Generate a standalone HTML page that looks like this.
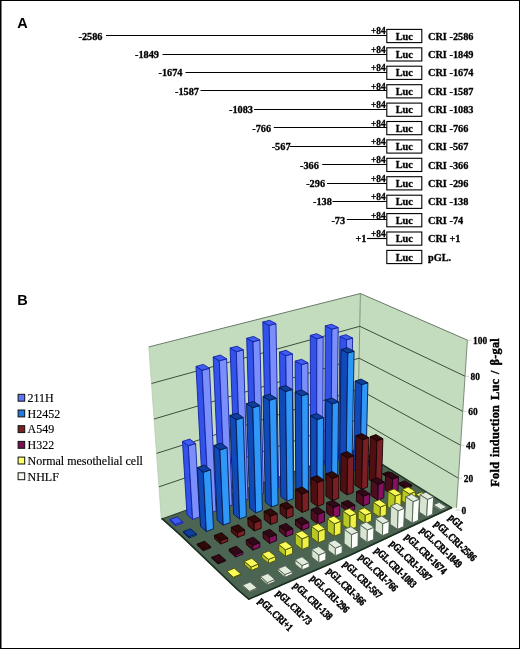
<!DOCTYPE html>
<html><head><meta charset="utf-8"><title>Figure</title>
<style>
html,body{margin:0;padding:0;background:#fff;}
body{width:520px;height:649px;overflow:hidden;}
svg{display:block;}
.sb{font-family:"Liberation Serif",serif;font-weight:bold;fill:#000;stroke:#000;stroke-width:0.3px;}
.sr{font-family:"Liberation Serif",serif;fill:#000;stroke:#000;stroke-width:0.15px;}
.ab{font-family:"Liberation Sans",sans-serif;font-weight:bold;fill:#000;}
</style></head><body>
<svg width="520" height="649" viewBox="0 0 520 649">
<rect x="0" y="0" width="520" height="649" fill="#fff"/>
<rect x="0.5" y="0.5" width="519" height="648" fill="none" stroke="#000" stroke-width="1"/>
<rect x="0" y="0" width="1.5" height="649" fill="#000"/>
<text x="17.3" y="28" class="ab" font-size="14.5">A</text>
<text x="17.3" y="305" class="ab" font-size="14.5">B</text>
<g id="panelA">
<rect x="386.8" y="29.4" width="35" height="13.2" fill="#fff" stroke="#000" stroke-width="1.1"/>
<text x="404.3" y="39.5" text-anchor="middle" class="sb" font-size="10.3">Luc</text>
<text x="428" y="39.6" class="sb" font-size="10.3">CRI -2586</text>
<text x="78.5" y="39.6" class="sb" font-size="10.3">-2586</text>
<line x1="106.0" y1="35.5" x2="386.8" y2="35.5" stroke="#000" stroke-width="1.15"/>
<text x="385.6" y="34.4" text-anchor="end" class="sb" font-size="9.4">+84</text>
<rect x="386.8" y="47.8" width="35" height="13.2" fill="#fff" stroke="#000" stroke-width="1.1"/>
<text x="404.3" y="57.9" text-anchor="middle" class="sb" font-size="10.3">Luc</text>
<text x="428" y="58.0" class="sb" font-size="10.3">CRI -1849</text>
<text x="135.0" y="58.0" class="sb" font-size="10.3">-1849</text>
<line x1="162.5" y1="54.5" x2="386.8" y2="54.5" stroke="#000" stroke-width="1.15"/>
<text x="385.6" y="52.8" text-anchor="end" class="sb" font-size="9.4">+84</text>
<rect x="386.8" y="66.2" width="35" height="13.2" fill="#fff" stroke="#000" stroke-width="1.1"/>
<text x="404.3" y="76.3" text-anchor="middle" class="sb" font-size="10.3">Luc</text>
<text x="428" y="76.4" class="sb" font-size="10.3">CRI -1674</text>
<text x="158.5" y="76.4" class="sb" font-size="10.3">-1674</text>
<line x1="185.5" y1="72.5" x2="386.8" y2="72.5" stroke="#000" stroke-width="1.15"/>
<text x="385.6" y="71.2" text-anchor="end" class="sb" font-size="9.4">+84</text>
<rect x="386.8" y="84.7" width="35" height="13.2" fill="#fff" stroke="#000" stroke-width="1.1"/>
<text x="404.3" y="94.8" text-anchor="middle" class="sb" font-size="10.3">Luc</text>
<text x="428" y="94.8" class="sb" font-size="10.3">CRI -1587</text>
<text x="175.0" y="94.8" class="sb" font-size="10.3">-1587</text>
<line x1="200.5" y1="90.5" x2="386.8" y2="90.5" stroke="#000" stroke-width="1.15"/>
<text x="385.6" y="89.7" text-anchor="end" class="sb" font-size="9.4">+84</text>
<rect x="386.8" y="103.1" width="35" height="13.2" fill="#fff" stroke="#000" stroke-width="1.1"/>
<text x="404.3" y="113.2" text-anchor="middle" class="sb" font-size="10.3">Luc</text>
<text x="428" y="113.3" class="sb" font-size="10.3">CRI -1083</text>
<text x="229.0" y="113.3" class="sb" font-size="10.3">-1083</text>
<line x1="254.0" y1="109.5" x2="386.8" y2="109.5" stroke="#000" stroke-width="1.15"/>
<text x="385.6" y="108.1" text-anchor="end" class="sb" font-size="9.4">+84</text>
<rect x="386.8" y="121.5" width="35" height="13.2" fill="#fff" stroke="#000" stroke-width="1.1"/>
<text x="404.3" y="131.6" text-anchor="middle" class="sb" font-size="10.3">Luc</text>
<text x="428" y="131.7" class="sb" font-size="10.3">CRI -766</text>
<text x="252.3" y="131.7" class="sb" font-size="10.3">-766</text>
<line x1="273.8" y1="127.5" x2="386.8" y2="127.5" stroke="#000" stroke-width="1.15"/>
<text x="385.6" y="126.5" text-anchor="end" class="sb" font-size="9.4">+84</text>
<rect x="386.8" y="139.9" width="35" height="13.2" fill="#fff" stroke="#000" stroke-width="1.1"/>
<text x="404.3" y="150.0" text-anchor="middle" class="sb" font-size="10.3">Luc</text>
<text x="428" y="150.1" class="sb" font-size="10.3">CRI -567</text>
<text x="271.7" y="150.1" class="sb" font-size="10.3">-567</text>
<line x1="289.8" y1="146.5" x2="386.8" y2="146.5" stroke="#000" stroke-width="1.15"/>
<text x="385.6" y="144.9" text-anchor="end" class="sb" font-size="9.4">+84</text>
<rect x="386.8" y="158.3" width="35" height="13.2" fill="#fff" stroke="#000" stroke-width="1.1"/>
<text x="404.3" y="168.4" text-anchor="middle" class="sb" font-size="10.3">Luc</text>
<text x="428" y="168.5" class="sb" font-size="10.3">CRI -366</text>
<text x="300.0" y="168.5" class="sb" font-size="10.3">-366</text>
<line x1="322.2" y1="164.5" x2="386.8" y2="164.5" stroke="#000" stroke-width="1.15"/>
<text x="385.6" y="163.3" text-anchor="end" class="sb" font-size="9.4">+84</text>
<rect x="386.8" y="176.7" width="35" height="13.2" fill="#fff" stroke="#000" stroke-width="1.1"/>
<text x="404.3" y="186.8" text-anchor="middle" class="sb" font-size="10.3">Luc</text>
<text x="428" y="186.9" class="sb" font-size="10.3">CRI -296</text>
<text x="306.2" y="186.9" class="sb" font-size="10.3">-296</text>
<line x1="327.0" y1="183.5" x2="386.8" y2="183.5" stroke="#000" stroke-width="1.15"/>
<text x="385.6" y="181.7" text-anchor="end" class="sb" font-size="9.4">+84</text>
<rect x="386.8" y="195.2" width="35" height="13.2" fill="#fff" stroke="#000" stroke-width="1.1"/>
<text x="404.3" y="205.2" text-anchor="middle" class="sb" font-size="10.3">Luc</text>
<text x="428" y="205.3" class="sb" font-size="10.3">CRI -138</text>
<text x="313.0" y="205.3" class="sb" font-size="10.3">-138</text>
<line x1="332.3" y1="201.5" x2="386.8" y2="201.5" stroke="#000" stroke-width="1.15"/>
<text x="385.6" y="200.2" text-anchor="end" class="sb" font-size="9.4">+84</text>
<rect x="386.8" y="213.6" width="35" height="13.2" fill="#fff" stroke="#000" stroke-width="1.1"/>
<text x="404.3" y="223.7" text-anchor="middle" class="sb" font-size="10.3">Luc</text>
<text x="428" y="223.8" class="sb" font-size="10.3">CRI -74</text>
<text x="331.4" y="223.8" class="sb" font-size="10.3">-73</text>
<line x1="346.8" y1="219.5" x2="386.8" y2="219.5" stroke="#000" stroke-width="1.15"/>
<text x="385.6" y="218.6" text-anchor="end" class="sb" font-size="9.4">+84</text>
<rect x="386.8" y="232.0" width="35" height="13.2" fill="#fff" stroke="#000" stroke-width="1.1"/>
<text x="404.3" y="242.1" text-anchor="middle" class="sb" font-size="10.3">Luc</text>
<text x="428" y="242.2" class="sb" font-size="10.3">CRI +1</text>
<text x="355.4" y="242.2" class="sb" font-size="10.3">+1</text>
<line x1="367.0" y1="238.5" x2="386.8" y2="238.5" stroke="#000" stroke-width="1.15"/>
<text x="385.6" y="237.0" text-anchor="end" class="sb" font-size="9.4">+84</text>
<rect x="386.8" y="250.4" width="35" height="13.2" fill="#fff" stroke="#000" stroke-width="1.1"/>
<text x="404.3" y="260.5" text-anchor="middle" class="sb" font-size="10.3">Luc</text>
<text x="428" y="260.6" class="sb" font-size="10.3">pGL.</text>
</g>
<g id="legend">
<rect x="18.1" y="394.3" width="6.6" height="6.9" fill="#5a78f5" stroke="#111" stroke-width="1"/>
<text x="27.5" y="402.0" class="sr" font-size="12">211H</text>
<rect x="18.1" y="410.0" width="6.6" height="6.9" fill="#1e7ae6" stroke="#111" stroke-width="1"/>
<text x="27.5" y="417.7" class="sr" font-size="12">H2452</text>
<rect x="18.1" y="425.7" width="6.6" height="6.9" fill="#7a2020" stroke="#111" stroke-width="1"/>
<text x="27.5" y="433.4" class="sr" font-size="12">A549</text>
<rect x="18.1" y="441.4" width="6.6" height="6.9" fill="#7a1050" stroke="#111" stroke-width="1"/>
<text x="27.5" y="449.1" class="sr" font-size="12">H322</text>
<rect x="18.1" y="457.1" width="6.6" height="6.9" fill="#ffff66" stroke="#111" stroke-width="1"/>
<text x="27.5" y="464.8" class="sr" font-size="12">Normal mesothelial cell</text>
<rect x="18.1" y="472.8" width="6.6" height="6.9" fill="#f4faf0" stroke="#111" stroke-width="1"/>
<text x="27.5" y="480.5" class="sr" font-size="12">NHLF</text>
</g>
<g id="chart">
<polygon points="161.3,519.1 148.8,346.9 360.4,293.5 357.3,448.8" fill="#c3dcbd"/>
<polygon points="357.3,448.8 360.4,293.5 467.4,340.1 456.5,507.7 452.3,508.1" fill="#c3dcbd"/>
<polyline points="148.8,346.9 360.4,293.5 467.4,340.1" fill="none" stroke="#5d6e5d" stroke-width="0.9"/>
<line x1="360.4" y1="293.5" x2="357.3" y2="448.8" stroke="#6f806f" stroke-width="0.8"/>
<line x1="467.4" y1="340.1" x2="456.5" y2="507.7" stroke="#6f826f" stroke-width="0.9"/>
<line x1="148.8" y1="346.9" x2="161.3" y2="519.1" stroke="#b4c9b0" stroke-width="0.7"/>
<line x1="159.0" y1="486.8" x2="357.9" y2="419.4" stroke="#1c2a1c" stroke-width="0.8"/>
<line x1="357.9" y1="419.4" x2="458.1" y2="478.0" stroke="#1c2a1c" stroke-width="0.8"/>
<line x1="156.6" y1="453.4" x2="358.5" y2="389.3" stroke="#1c2a1c" stroke-width="0.8"/>
<line x1="358.5" y1="389.3" x2="460.3" y2="445.1" stroke="#1c2a1c" stroke-width="0.8"/>
<line x1="154.1" y1="419.0" x2="359.1" y2="358.2" stroke="#1c2a1c" stroke-width="0.8"/>
<line x1="359.1" y1="358.2" x2="462.6" y2="411.2" stroke="#1c2a1c" stroke-width="0.8"/>
<line x1="151.5" y1="383.5" x2="359.8" y2="326.3" stroke="#1c2a1c" stroke-width="0.8"/>
<line x1="359.8" y1="326.3" x2="465.0" y2="376.2" stroke="#1c2a1c" stroke-width="0.8"/>
<polygon points="161.2,518.9 180.0,535.6 236.5,589.6 248.8,600.0 350.0,555.9 400.0,532.4 452.2,508.2 357.3,448.8" fill="#4b6552"/>
<line x1="161.3" y1="519.1" x2="357.3" y2="448.8" stroke="#22362a" stroke-width="0.9"/>
<line x1="357.3" y1="448.8" x2="452.2" y2="508.2" stroke="#1d3324" stroke-width="1.4"/>
<polyline points="161.8,518.3 180.6,535.1 237.1,589.1 248.8,599.1 349.8,555.2 399.8,531.7 451.9,507.5" fill="none" stroke="#1b3022" stroke-width="1.5" stroke-linejoin="miter"/>
<line x1="455.9" y1="509.9" x2="459.9" y2="510.1" stroke="#b5bdb5" stroke-width="0.7"/>
<line x1="458.1" y1="478.0" x2="462.1" y2="478.2" stroke="#b5bdb5" stroke-width="0.7"/>
<line x1="460.3" y1="445.1" x2="464.3" y2="445.3" stroke="#b5bdb5" stroke-width="0.7"/>
<line x1="462.6" y1="411.2" x2="466.6" y2="411.4" stroke="#b5bdb5" stroke-width="0.7"/>
<line x1="465.0" y1="376.2" x2="469.0" y2="376.4" stroke="#b5bdb5" stroke-width="0.7"/>
<line x1="467.4" y1="340.1" x2="471.4" y2="340.3" stroke="#b5bdb5" stroke-width="0.7"/>
<polygon points="352.1,454.9 352.1,452.0 358.4,455.9 358.4,458.9" fill="#3253ea" stroke="#1420a0" stroke-width="0.9" stroke-linejoin="round"/>
<polygon points="358.4,458.9 358.4,455.9 364.1,453.9 364.0,456.8" fill="#7a8ffb" stroke="#1420a0" stroke-width="0.9" stroke-linejoin="round"/>
<polygon points="358.4,455.9 364.1,453.9 357.8,450.0 352.1,452.0" fill="#3f5df2" stroke="#1420a0" stroke-width="0.9" stroke-linejoin="round"/>
<polygon points="338.5,459.8 339.9,336.4 346.5,339.7 344.7,463.9" fill="#3253ea" stroke="#1420a0" stroke-width="0.9" stroke-linejoin="round"/>
<polygon points="344.7,463.9 346.5,339.7 352.6,338.0 350.5,461.8" fill="#7a8ffb" stroke="#1420a0" stroke-width="0.9" stroke-linejoin="round"/>
<polygon points="346.5,339.7 352.6,338.0 346.0,334.7 339.9,336.4" fill="#3f5df2" stroke="#1420a0" stroke-width="0.9" stroke-linejoin="round"/>
<polygon points="324.6,464.8 325.3,325.9 331.9,329.2 330.8,468.9" fill="#3253ea" stroke="#1420a0" stroke-width="0.9" stroke-linejoin="round"/>
<polygon points="330.8,468.9 331.9,329.2 338.2,327.5 336.7,466.8" fill="#7a8ffb" stroke="#1420a0" stroke-width="0.9" stroke-linejoin="round"/>
<polygon points="331.9,329.2 338.2,327.5 331.6,324.3 325.3,325.9" fill="#3f5df2" stroke="#1420a0" stroke-width="0.9" stroke-linejoin="round"/>
<polygon points="310.5,470.0 310.3,335.4 316.8,338.8 316.6,474.1" fill="#3253ea" stroke="#1420a0" stroke-width="0.9" stroke-linejoin="round"/>
<polygon points="316.6,474.1 316.8,338.8 323.2,337.0 322.6,471.9" fill="#7a8ffb" stroke="#1420a0" stroke-width="0.9" stroke-linejoin="round"/>
<polygon points="316.8,338.8 323.2,337.0 316.6,333.7 310.3,335.4" fill="#3f5df2" stroke="#1420a0" stroke-width="0.9" stroke-linejoin="round"/>
<polygon points="296.1,475.2 295.1,361.1 301.5,364.7 302.2,479.4" fill="#3253ea" stroke="#1420a0" stroke-width="0.9" stroke-linejoin="round"/>
<polygon points="302.2,479.4 301.5,364.7 308.0,362.8 308.3,477.2" fill="#7a8ffb" stroke="#1420a0" stroke-width="0.9" stroke-linejoin="round"/>
<polygon points="301.5,364.7 308.0,362.8 301.6,359.3 295.1,361.1" fill="#3f5df2" stroke="#1420a0" stroke-width="0.9" stroke-linejoin="round"/>
<polygon points="281.4,480.5 279.5,352.1 285.8,355.7 287.4,484.8" fill="#3253ea" stroke="#1420a0" stroke-width="0.9" stroke-linejoin="round"/>
<polygon points="287.4,484.8 285.8,355.7 292.4,353.8 293.7,482.5" fill="#7a8ffb" stroke="#1420a0" stroke-width="0.9" stroke-linejoin="round"/>
<polygon points="285.8,355.7 292.4,353.8 286.0,350.3 279.5,352.1" fill="#3f5df2" stroke="#1420a0" stroke-width="0.9" stroke-linejoin="round"/>
<polygon points="266.4,485.9 262.8,322.0 269.2,325.4 272.4,490.3" fill="#3253ea" stroke="#1420a0" stroke-width="0.9" stroke-linejoin="round"/>
<polygon points="272.4,490.3 269.2,325.4 276.0,323.6 278.7,488.0" fill="#7a8ffb" stroke="#1420a0" stroke-width="0.9" stroke-linejoin="round"/>
<polygon points="269.2,325.4 276.0,323.6 269.6,320.3 262.8,322.0" fill="#3f5df2" stroke="#1420a0" stroke-width="0.9" stroke-linejoin="round"/>
<polygon points="251.2,491.4 246.7,338.3 253.0,341.8 257.1,495.9" fill="#3253ea" stroke="#1420a0" stroke-width="0.9" stroke-linejoin="round"/>
<polygon points="257.1,495.9 253.0,341.8 259.9,339.9 263.5,493.5" fill="#7a8ffb" stroke="#1420a0" stroke-width="0.9" stroke-linejoin="round"/>
<polygon points="253.0,341.8 259.9,339.9 253.6,336.4 246.7,338.3" fill="#3f5df2" stroke="#1420a0" stroke-width="0.9" stroke-linejoin="round"/>
<polygon points="235.6,497.0 230.1,348.0 236.3,351.7 241.4,501.6" fill="#3253ea" stroke="#1420a0" stroke-width="0.9" stroke-linejoin="round"/>
<polygon points="241.4,501.6 236.3,351.7 243.4,349.8 248.0,499.2" fill="#7a8ffb" stroke="#1420a0" stroke-width="0.9" stroke-linejoin="round"/>
<polygon points="236.3,351.7 243.4,349.8 237.2,346.2 230.1,348.0" fill="#3f5df2" stroke="#1420a0" stroke-width="0.9" stroke-linejoin="round"/>
<polygon points="219.7,502.8 213.2,357.0 219.3,360.8 225.5,507.5" fill="#3253ea" stroke="#1420a0" stroke-width="0.9" stroke-linejoin="round"/>
<polygon points="225.5,507.5 219.3,360.8 226.6,358.8 232.2,505.0" fill="#7a8ffb" stroke="#1420a0" stroke-width="0.9" stroke-linejoin="round"/>
<polygon points="219.3,360.8 226.6,358.8 220.4,355.1 213.2,357.0" fill="#3f5df2" stroke="#1420a0" stroke-width="0.9" stroke-linejoin="round"/>
<polygon points="203.5,508.6 196.0,366.4 202.1,370.3 209.2,513.4" fill="#3253ea" stroke="#1420a0" stroke-width="0.9" stroke-linejoin="round"/>
<polygon points="209.2,513.4 202.1,370.3 209.5,368.3 216.1,510.9" fill="#7a8ffb" stroke="#1420a0" stroke-width="0.9" stroke-linejoin="round"/>
<polygon points="202.1,370.3 209.5,368.3 203.4,364.4 196.0,366.4" fill="#3f5df2" stroke="#1420a0" stroke-width="0.9" stroke-linejoin="round"/>
<polygon points="187.0,514.6 182.5,441.4 188.3,445.8 192.6,519.5" fill="#3253ea" stroke="#1420a0" stroke-width="0.9" stroke-linejoin="round"/>
<polygon points="192.6,519.5 188.3,445.8 195.6,443.5 199.6,516.9" fill="#7a8ffb" stroke="#1420a0" stroke-width="0.9" stroke-linejoin="round"/>
<polygon points="188.3,445.8 195.6,443.5 189.8,439.1 182.5,441.4" fill="#3f5df2" stroke="#1420a0" stroke-width="0.9" stroke-linejoin="round"/>
<polygon points="170.1,520.7 170.0,519.4 175.5,524.4 175.6,525.7" fill="#3253ea" stroke="#1420a0" stroke-width="0.9" stroke-linejoin="round"/>
<polygon points="175.6,525.7 175.5,524.4 182.7,521.8 182.8,523.1" fill="#7a8ffb" stroke="#1420a0" stroke-width="0.9" stroke-linejoin="round"/>
<polygon points="175.5,524.4 182.7,521.8 177.1,516.9 170.0,519.4" fill="#3f5df2" stroke="#1420a0" stroke-width="0.9" stroke-linejoin="round"/>
<polygon points="367.2,464.4 367.2,461.5 373.8,465.5 373.7,468.5" fill="#0f4ab8" stroke="#061a50" stroke-width="0.9" stroke-linejoin="round"/>
<polygon points="373.7,468.5 373.8,465.5 379.5,463.4 379.4,466.4" fill="#2f97f7" stroke="#061a50" stroke-width="0.9" stroke-linejoin="round"/>
<polygon points="373.8,465.5 379.5,463.4 372.9,459.4 367.2,461.5" fill="#0e3f9e" stroke="#061a50" stroke-width="0.9" stroke-linejoin="round"/>
<polygon points="353.5,469.5 355.1,381.0 361.8,384.6 359.9,473.7" fill="#0f4ab8" stroke="#061a50" stroke-width="0.9" stroke-linejoin="round"/>
<polygon points="359.9,473.7 361.8,384.6 367.9,382.7 365.7,471.5" fill="#2f97f7" stroke="#061a50" stroke-width="0.9" stroke-linejoin="round"/>
<polygon points="361.8,384.6 367.9,382.7 361.1,379.1 355.1,381.0" fill="#0e3f9e" stroke="#061a50" stroke-width="0.9" stroke-linejoin="round"/>
<polygon points="339.5,474.7 341.0,349.5 347.8,353.0 345.9,479.0" fill="#0f4ab8" stroke="#061a50" stroke-width="0.9" stroke-linejoin="round"/>
<polygon points="345.9,479.0 347.8,353.0 354.1,351.2 351.8,476.7" fill="#2f97f7" stroke="#061a50" stroke-width="0.9" stroke-linejoin="round"/>
<polygon points="347.8,353.0 354.1,351.2 347.2,347.7 341.0,349.5" fill="#0e3f9e" stroke="#061a50" stroke-width="0.9" stroke-linejoin="round"/>
<polygon points="325.2,480.0 325.7,399.9 332.3,403.8 331.6,484.3" fill="#0f4ab8" stroke="#061a50" stroke-width="0.9" stroke-linejoin="round"/>
<polygon points="331.6,484.3 332.3,403.8 338.5,401.8 337.6,482.1" fill="#2f97f7" stroke="#061a50" stroke-width="0.9" stroke-linejoin="round"/>
<polygon points="332.3,403.8 338.5,401.8 331.9,398.0 325.7,399.9" fill="#0e3f9e" stroke="#061a50" stroke-width="0.9" stroke-linejoin="round"/>
<polygon points="310.7,485.4 310.6,415.6 317.1,419.6 317.0,489.8" fill="#0f4ab8" stroke="#061a50" stroke-width="0.9" stroke-linejoin="round"/>
<polygon points="317.0,489.8 317.1,419.6 323.5,417.5 323.2,487.5" fill="#2f97f7" stroke="#061a50" stroke-width="0.9" stroke-linejoin="round"/>
<polygon points="317.1,419.6 323.5,417.5 317.0,413.5 310.6,415.6" fill="#0e3f9e" stroke="#061a50" stroke-width="0.9" stroke-linejoin="round"/>
<polygon points="295.9,490.9 295.1,391.9 301.6,395.8 302.2,495.4" fill="#0f4ab8" stroke="#061a50" stroke-width="0.9" stroke-linejoin="round"/>
<polygon points="302.2,495.4 301.6,395.8 308.2,393.8 308.4,493.1" fill="#2f97f7" stroke="#061a50" stroke-width="0.9" stroke-linejoin="round"/>
<polygon points="301.6,395.8 308.2,393.8 301.6,389.9 295.1,391.9" fill="#0e3f9e" stroke="#061a50" stroke-width="0.9" stroke-linejoin="round"/>
<polygon points="280.8,496.5 279.1,387.6 285.6,391.5 287.0,501.1" fill="#0f4ab8" stroke="#061a50" stroke-width="0.9" stroke-linejoin="round"/>
<polygon points="287.0,501.1 285.6,391.5 292.4,389.4 293.4,498.7" fill="#2f97f7" stroke="#061a50" stroke-width="0.9" stroke-linejoin="round"/>
<polygon points="285.6,391.5 292.4,389.4 285.8,385.6 279.1,387.6" fill="#0e3f9e" stroke="#061a50" stroke-width="0.9" stroke-linejoin="round"/>
<polygon points="265.4,502.3 263.0,396.3 269.4,400.3 271.5,507.0" fill="#0f4ab8" stroke="#061a50" stroke-width="0.9" stroke-linejoin="round"/>
<polygon points="271.5,507.0 269.4,400.3 276.3,398.2 278.1,504.5" fill="#2f97f7" stroke="#061a50" stroke-width="0.9" stroke-linejoin="round"/>
<polygon points="269.4,400.3 276.3,398.2 269.8,394.2 263.0,396.3" fill="#0e3f9e" stroke="#061a50" stroke-width="0.9" stroke-linejoin="round"/>
<polygon points="249.7,508.1 246.5,403.6 252.8,407.7 255.7,512.9" fill="#0f4ab8" stroke="#061a50" stroke-width="0.9" stroke-linejoin="round"/>
<polygon points="255.7,512.9 252.8,407.7 259.8,405.5 262.4,510.4" fill="#2f97f7" stroke="#061a50" stroke-width="0.9" stroke-linejoin="round"/>
<polygon points="252.8,407.7 259.8,405.5 253.5,401.4 246.5,403.6" fill="#0e3f9e" stroke="#061a50" stroke-width="0.9" stroke-linejoin="round"/>
<polygon points="233.6,514.1 229.8,415.4 236.1,419.7 239.6,519.0" fill="#0f4ab8" stroke="#061a50" stroke-width="0.9" stroke-linejoin="round"/>
<polygon points="239.6,519.0 236.1,419.7 243.2,417.5 246.4,516.4" fill="#2f97f7" stroke="#061a50" stroke-width="0.9" stroke-linejoin="round"/>
<polygon points="236.1,419.7 243.2,417.5 237.0,413.2 229.8,415.4" fill="#0e3f9e" stroke="#061a50" stroke-width="0.9" stroke-linejoin="round"/>
<polygon points="217.2,520.2 213.8,445.5 219.9,450.0 223.2,525.2" fill="#0f4ab8" stroke="#061a50" stroke-width="0.9" stroke-linejoin="round"/>
<polygon points="223.2,525.2 219.9,450.0 227.1,447.6 230.1,522.6" fill="#2f97f7" stroke="#061a50" stroke-width="0.9" stroke-linejoin="round"/>
<polygon points="219.9,450.0 227.1,447.6 221.0,443.1 213.8,445.5" fill="#0e3f9e" stroke="#061a50" stroke-width="0.9" stroke-linejoin="round"/>
<polygon points="200.5,526.4 197.3,467.6 203.3,472.3 206.3,531.5" fill="#0f4ab8" stroke="#061a50" stroke-width="0.9" stroke-linejoin="round"/>
<polygon points="206.3,531.5 203.3,472.3 210.6,469.8 213.5,528.8" fill="#2f97f7" stroke="#061a50" stroke-width="0.9" stroke-linejoin="round"/>
<polygon points="203.3,472.3 210.6,469.8 204.6,465.1 197.3,467.6" fill="#0e3f9e" stroke="#061a50" stroke-width="0.9" stroke-linejoin="round"/>
<polygon points="183.4,532.8 183.3,531.5 189.1,536.7 189.2,538.0" fill="#0f4ab8" stroke="#061a50" stroke-width="0.9" stroke-linejoin="round"/>
<polygon points="189.2,538.0 189.1,536.7 196.4,533.9 196.4,535.2" fill="#2f97f7" stroke="#061a50" stroke-width="0.9" stroke-linejoin="round"/>
<polygon points="189.1,536.7 196.4,533.9 190.6,528.8 183.3,531.5" fill="#0e3f9e" stroke="#061a50" stroke-width="0.9" stroke-linejoin="round"/>
<polygon points="382.8,474.3 382.8,473.8 389.5,478.1 389.5,478.5" fill="#4e0f11" stroke="#160303" stroke-width="0.9" stroke-linejoin="round"/>
<polygon points="389.5,478.5 389.5,478.1 395.3,475.8 395.3,476.3" fill="#7a1f24" stroke="#160303" stroke-width="0.9" stroke-linejoin="round"/>
<polygon points="389.5,478.1 395.3,475.8 388.5,471.6 382.8,473.8" fill="#300909" stroke="#160303" stroke-width="0.9" stroke-linejoin="round"/>
<polygon points="369.0,479.6 370.1,436.7 376.9,440.8 375.7,483.9" fill="#4e0f11" stroke="#160303" stroke-width="0.9" stroke-linejoin="round"/>
<polygon points="375.7,483.9 376.9,440.8 382.9,438.7 381.5,481.6" fill="#7a1f24" stroke="#160303" stroke-width="0.9" stroke-linejoin="round"/>
<polygon points="376.9,440.8 382.9,438.7 376.0,434.6 370.1,436.7" fill="#300909" stroke="#160303" stroke-width="0.9" stroke-linejoin="round"/>
<polygon points="354.9,485.0 355.9,435.7 362.7,439.8 361.6,489.4" fill="#4e0f11" stroke="#160303" stroke-width="0.9" stroke-linejoin="round"/>
<polygon points="361.6,489.4 362.7,439.8 368.8,437.6 367.5,487.1" fill="#7a1f24" stroke="#160303" stroke-width="0.9" stroke-linejoin="round"/>
<polygon points="362.7,439.8 368.8,437.6 361.9,433.6 355.9,435.7" fill="#300909" stroke="#160303" stroke-width="0.9" stroke-linejoin="round"/>
<polygon points="340.5,490.4 341.0,453.7 347.7,458.0 347.1,494.9" fill="#4e0f11" stroke="#160303" stroke-width="0.9" stroke-linejoin="round"/>
<polygon points="347.1,494.9 347.7,458.0 353.9,455.8 353.2,492.6" fill="#7a1f24" stroke="#160303" stroke-width="0.9" stroke-linejoin="round"/>
<polygon points="347.7,458.0 353.9,455.8 347.2,451.5 341.0,453.7" fill="#300909" stroke="#160303" stroke-width="0.9" stroke-linejoin="round"/>
<polygon points="325.9,496.1 326.0,473.8 332.6,478.3 332.5,500.6" fill="#4e0f11" stroke="#160303" stroke-width="0.9" stroke-linejoin="round"/>
<polygon points="332.5,500.6 332.6,478.3 338.9,476.0 338.7,498.2" fill="#7a1f24" stroke="#160303" stroke-width="0.9" stroke-linejoin="round"/>
<polygon points="332.6,478.3 338.9,476.0 332.3,471.5 326.0,473.8" fill="#300909" stroke="#160303" stroke-width="0.9" stroke-linejoin="round"/>
<polygon points="311.0,501.8 310.9,478.0 317.5,482.5 317.5,506.5" fill="#4e0f11" stroke="#160303" stroke-width="0.9" stroke-linejoin="round"/>
<polygon points="317.5,506.5 317.5,482.5 323.9,480.1 323.8,504.0" fill="#7a1f24" stroke="#160303" stroke-width="0.9" stroke-linejoin="round"/>
<polygon points="317.5,482.5 323.9,480.1 317.3,475.6 310.9,478.0" fill="#300909" stroke="#160303" stroke-width="0.9" stroke-linejoin="round"/>
<polygon points="295.7,507.6 295.6,489.3 302.1,494.0 302.2,512.4" fill="#4e0f11" stroke="#160303" stroke-width="0.9" stroke-linejoin="round"/>
<polygon points="302.2,512.4 302.1,494.0 308.6,491.6 308.6,509.9" fill="#7a1f24" stroke="#160303" stroke-width="0.9" stroke-linejoin="round"/>
<polygon points="302.1,494.0 308.6,491.6 302.1,486.9 295.6,489.3" fill="#300909" stroke="#160303" stroke-width="0.9" stroke-linejoin="round"/>
<polygon points="280.2,513.6 280.0,504.6 286.4,509.4 286.5,518.4" fill="#4e0f11" stroke="#160303" stroke-width="0.9" stroke-linejoin="round"/>
<polygon points="286.5,518.4 286.4,509.4 293.0,506.9 293.1,515.9" fill="#7a1f24" stroke="#160303" stroke-width="0.9" stroke-linejoin="round"/>
<polygon points="286.4,509.4 293.0,506.9 286.6,502.1 280.0,504.6" fill="#300909" stroke="#160303" stroke-width="0.9" stroke-linejoin="round"/>
<polygon points="264.3,519.6 264.1,511.3 270.4,516.2 270.6,524.6" fill="#4e0f11" stroke="#160303" stroke-width="0.9" stroke-linejoin="round"/>
<polygon points="270.6,524.6 270.4,516.2 277.2,513.6 277.3,522.0" fill="#7a1f24" stroke="#160303" stroke-width="0.9" stroke-linejoin="round"/>
<polygon points="270.4,516.2 277.2,513.6 270.8,508.7 264.1,511.3" fill="#300909" stroke="#160303" stroke-width="0.9" stroke-linejoin="round"/>
<polygon points="248.1,525.9 247.8,517.9 254.1,522.9 254.3,530.9" fill="#4e0f11" stroke="#160303" stroke-width="0.9" stroke-linejoin="round"/>
<polygon points="254.3,530.9 254.1,522.9 261.0,520.3 261.2,528.3" fill="#7a1f24" stroke="#160303" stroke-width="0.9" stroke-linejoin="round"/>
<polygon points="254.1,522.9 261.0,520.3 254.7,515.3 247.8,517.9" fill="#300909" stroke="#160303" stroke-width="0.9" stroke-linejoin="round"/>
<polygon points="231.5,532.2 231.3,527.3 237.5,532.5 237.7,537.4" fill="#4e0f11" stroke="#160303" stroke-width="0.9" stroke-linejoin="round"/>
<polygon points="237.7,537.4 237.5,532.5 244.5,529.8 244.7,534.7" fill="#7a1f24" stroke="#160303" stroke-width="0.9" stroke-linejoin="round"/>
<polygon points="237.5,532.5 244.5,529.8 238.3,524.7 231.3,527.3" fill="#300909" stroke="#160303" stroke-width="0.9" stroke-linejoin="round"/>
<polygon points="214.6,538.7 214.4,535.4 220.5,540.7 220.7,544.0" fill="#4e0f11" stroke="#160303" stroke-width="0.9" stroke-linejoin="round"/>
<polygon points="220.7,544.0 220.5,540.7 227.7,537.9 227.9,541.2" fill="#7a1f24" stroke="#160303" stroke-width="0.9" stroke-linejoin="round"/>
<polygon points="220.5,540.7 227.7,537.9 221.6,532.7 214.4,535.4" fill="#300909" stroke="#160303" stroke-width="0.9" stroke-linejoin="round"/>
<polygon points="197.3,545.3 197.2,544.0 203.2,549.4 203.3,550.7" fill="#4e0f11" stroke="#160303" stroke-width="0.9" stroke-linejoin="round"/>
<polygon points="203.3,550.7 203.2,549.4 210.6,546.5 210.7,547.9" fill="#7a1f24" stroke="#160303" stroke-width="0.9" stroke-linejoin="round"/>
<polygon points="203.2,549.4 210.6,546.5 204.5,541.2 197.2,544.0" fill="#300909" stroke="#160303" stroke-width="0.9" stroke-linejoin="round"/>
<polygon points="399.0,484.5 399.1,483.0 406.0,487.4 406.0,488.9" fill="#4c0d1e" stroke="#16030a" stroke-width="0.9" stroke-linejoin="round"/>
<polygon points="406.0,488.9 406.0,487.4 411.8,485.1 411.8,486.6" fill="#861060" stroke="#16030a" stroke-width="0.9" stroke-linejoin="round"/>
<polygon points="406.0,487.4 411.8,485.1 404.8,480.7 399.1,483.0" fill="#300816" stroke="#16030a" stroke-width="0.9" stroke-linejoin="round"/>
<polygon points="385.1,490.0 385.6,474.8 392.6,479.2 392.0,494.5" fill="#4c0d1e" stroke="#16030a" stroke-width="0.9" stroke-linejoin="round"/>
<polygon points="392.0,494.5 392.6,479.2 398.5,476.9 397.9,492.1" fill="#861060" stroke="#16030a" stroke-width="0.9" stroke-linejoin="round"/>
<polygon points="392.6,479.2 398.5,476.9 391.5,472.5 385.6,474.8" fill="#300816" stroke="#16030a" stroke-width="0.9" stroke-linejoin="round"/>
<polygon points="370.9,495.6 371.3,480.0 378.3,484.5 377.8,500.2" fill="#4c0d1e" stroke="#16030a" stroke-width="0.9" stroke-linejoin="round"/>
<polygon points="377.8,500.2 378.3,484.5 384.3,482.1 383.8,497.7" fill="#861060" stroke="#16030a" stroke-width="0.9" stroke-linejoin="round"/>
<polygon points="378.3,484.5 384.3,482.1 377.4,477.7 371.3,480.0" fill="#300816" stroke="#16030a" stroke-width="0.9" stroke-linejoin="round"/>
<polygon points="356.4,501.3 356.6,491.6 363.5,496.2 363.3,506.0" fill="#4c0d1e" stroke="#16030a" stroke-width="0.9" stroke-linejoin="round"/>
<polygon points="363.3,506.0 363.5,496.2 369.7,493.8 369.4,503.5" fill="#861060" stroke="#16030a" stroke-width="0.9" stroke-linejoin="round"/>
<polygon points="363.5,496.2 369.7,493.8 362.8,489.2 356.6,491.6" fill="#300816" stroke="#16030a" stroke-width="0.9" stroke-linejoin="round"/>
<polygon points="341.7,507.1 341.7,502.8 348.5,507.5 348.5,511.9" fill="#4c0d1e" stroke="#16030a" stroke-width="0.9" stroke-linejoin="round"/>
<polygon points="348.5,511.9 348.5,507.5 354.8,505.0 354.7,509.4" fill="#861060" stroke="#16030a" stroke-width="0.9" stroke-linejoin="round"/>
<polygon points="348.5,507.5 354.8,505.0 348.0,500.3 341.7,502.8" fill="#300816" stroke="#16030a" stroke-width="0.9" stroke-linejoin="round"/>
<polygon points="326.6,513.0 326.7,502.7 333.4,507.5 333.4,517.9" fill="#4c0d1e" stroke="#16030a" stroke-width="0.9" stroke-linejoin="round"/>
<polygon points="333.4,517.9 333.4,507.5 339.9,505.0 339.7,515.4" fill="#861060" stroke="#16030a" stroke-width="0.9" stroke-linejoin="round"/>
<polygon points="333.4,507.5 339.9,505.0 333.1,500.2 326.7,502.7" fill="#300816" stroke="#16030a" stroke-width="0.9" stroke-linejoin="round"/>
<polygon points="311.2,519.1 311.2,509.5 317.9,514.4 317.9,524.1" fill="#4c0d1e" stroke="#16030a" stroke-width="0.9" stroke-linejoin="round"/>
<polygon points="317.9,524.1 317.9,514.4 324.5,511.8 324.4,521.5" fill="#861060" stroke="#16030a" stroke-width="0.9" stroke-linejoin="round"/>
<polygon points="317.9,514.4 324.5,511.8 317.7,507.0 311.2,509.5" fill="#300816" stroke="#16030a" stroke-width="0.9" stroke-linejoin="round"/>
<polygon points="295.5,525.3 295.5,519.8 302.1,524.8 302.1,530.4" fill="#4c0d1e" stroke="#16030a" stroke-width="0.9" stroke-linejoin="round"/>
<polygon points="302.1,530.4 302.1,524.8 308.8,522.2 308.8,527.7" fill="#861060" stroke="#16030a" stroke-width="0.9" stroke-linejoin="round"/>
<polygon points="302.1,524.8 308.8,522.2 302.1,517.2 295.5,519.8" fill="#300816" stroke="#16030a" stroke-width="0.9" stroke-linejoin="round"/>
<polygon points="279.5,531.6 279.4,526.1 286.0,531.2 286.0,536.8" fill="#4c0d1e" stroke="#16030a" stroke-width="0.9" stroke-linejoin="round"/>
<polygon points="286.0,536.8 286.0,531.2 292.8,528.5 292.9,534.1" fill="#861060" stroke="#16030a" stroke-width="0.9" stroke-linejoin="round"/>
<polygon points="286.0,531.2 292.8,528.5 286.2,523.4 279.4,526.1" fill="#300816" stroke="#16030a" stroke-width="0.9" stroke-linejoin="round"/>
<polygon points="263.1,538.1 263.0,532.0 269.5,537.3 269.6,543.4" fill="#4c0d1e" stroke="#16030a" stroke-width="0.9" stroke-linejoin="round"/>
<polygon points="269.6,543.4 269.5,537.3 276.4,534.5 276.6,540.6" fill="#861060" stroke="#16030a" stroke-width="0.9" stroke-linejoin="round"/>
<polygon points="269.5,537.3 276.4,534.5 269.9,529.3 263.0,532.0" fill="#300816" stroke="#16030a" stroke-width="0.9" stroke-linejoin="round"/>
<polygon points="246.4,544.7 246.2,540.0 252.7,545.4 252.8,550.1" fill="#4c0d1e" stroke="#16030a" stroke-width="0.9" stroke-linejoin="round"/>
<polygon points="252.8,550.1 252.7,545.4 259.8,542.6 259.9,547.3" fill="#861060" stroke="#16030a" stroke-width="0.9" stroke-linejoin="round"/>
<polygon points="252.7,545.4 259.8,542.6 253.3,537.2 246.2,540.0" fill="#300816" stroke="#16030a" stroke-width="0.9" stroke-linejoin="round"/>
<polygon points="229.3,551.4 229.2,549.1 235.5,554.6 235.6,557.0" fill="#4c0d1e" stroke="#16030a" stroke-width="0.9" stroke-linejoin="round"/>
<polygon points="235.6,557.0 235.5,554.6 242.8,551.7 242.9,554.1" fill="#861060" stroke="#16030a" stroke-width="0.9" stroke-linejoin="round"/>
<polygon points="235.5,554.6 242.8,551.7 236.4,546.2 229.2,549.1" fill="#300816" stroke="#16030a" stroke-width="0.9" stroke-linejoin="round"/>
<polygon points="211.8,558.3 211.7,557.3 218.0,563.0 218.1,564.0" fill="#4c0d1e" stroke="#16030a" stroke-width="0.9" stroke-linejoin="round"/>
<polygon points="218.1,564.0 218.0,563.0 225.4,560.0 225.5,561.0" fill="#861060" stroke="#16030a" stroke-width="0.9" stroke-linejoin="round"/>
<polygon points="218.0,563.0 225.4,560.0 219.1,554.4 211.7,557.3" fill="#300816" stroke="#16030a" stroke-width="0.9" stroke-linejoin="round"/>
<polygon points="415.8,495.1 415.8,494.5 423.1,499.0 423.1,499.7" fill="#b9c722" stroke="#4a500a" stroke-width="0.9" stroke-linejoin="round"/>
<polygon points="423.1,499.7 423.1,499.0 428.9,496.6 428.9,497.3" fill="#eef045" stroke="#4a500a" stroke-width="0.9" stroke-linejoin="round"/>
<polygon points="423.1,499.0 428.9,496.6 421.6,492.1 415.8,494.5" fill="#f8fb58" stroke="#4a500a" stroke-width="0.9" stroke-linejoin="round"/>
<polygon points="401.8,500.8 402.3,489.4 409.5,494.0 409.0,505.4" fill="#b9c722" stroke="#4a500a" stroke-width="0.9" stroke-linejoin="round"/>
<polygon points="409.0,505.4 409.5,494.0 415.5,491.6 414.9,503.0" fill="#eef045" stroke="#4a500a" stroke-width="0.9" stroke-linejoin="round"/>
<polygon points="409.5,494.0 415.5,491.6 408.2,487.0 402.3,489.4" fill="#f8fb58" stroke="#4a500a" stroke-width="0.9" stroke-linejoin="round"/>
<polygon points="387.5,506.6 388.0,491.3 395.3,496.0 394.7,511.4" fill="#b9c722" stroke="#4a500a" stroke-width="0.9" stroke-linejoin="round"/>
<polygon points="394.7,511.4 395.3,496.0 401.4,493.6 400.7,508.9" fill="#eef045" stroke="#4a500a" stroke-width="0.9" stroke-linejoin="round"/>
<polygon points="395.3,496.0 401.4,493.6 394.1,488.9 388.0,491.3" fill="#f8fb58" stroke="#4a500a" stroke-width="0.9" stroke-linejoin="round"/>
<polygon points="372.9,512.5 373.2,502.2 380.4,507.0 380.1,517.4" fill="#b9c722" stroke="#4a500a" stroke-width="0.9" stroke-linejoin="round"/>
<polygon points="380.1,517.4 380.4,507.0 386.6,504.5 386.2,514.8" fill="#eef045" stroke="#4a500a" stroke-width="0.9" stroke-linejoin="round"/>
<polygon points="380.4,507.0 386.6,504.5 379.4,499.7 373.2,502.2" fill="#f8fb58" stroke="#4a500a" stroke-width="0.9" stroke-linejoin="round"/>
<polygon points="358.1,518.6 358.2,510.3 365.3,515.2 365.1,523.5" fill="#b9c722" stroke="#4a500a" stroke-width="0.9" stroke-linejoin="round"/>
<polygon points="365.1,523.5 365.3,515.2 371.7,512.6 371.4,520.9" fill="#eef045" stroke="#4a500a" stroke-width="0.9" stroke-linejoin="round"/>
<polygon points="365.3,515.2 371.7,512.6 364.5,507.8 358.2,510.3" fill="#f8fb58" stroke="#4a500a" stroke-width="0.9" stroke-linejoin="round"/>
<polygon points="342.9,524.8 343.0,511.0 350.1,516.0 349.9,529.8" fill="#b9c722" stroke="#4a500a" stroke-width="0.9" stroke-linejoin="round"/>
<polygon points="349.9,529.8 350.1,516.0 356.6,513.4 356.3,527.2" fill="#eef045" stroke="#4a500a" stroke-width="0.9" stroke-linejoin="round"/>
<polygon points="350.1,516.0 356.6,513.4 349.5,508.5 343.0,511.0" fill="#f8fb58" stroke="#4a500a" stroke-width="0.9" stroke-linejoin="round"/>
<polygon points="327.3,531.1 327.4,518.7 334.4,523.8 334.3,536.2" fill="#b9c722" stroke="#4a500a" stroke-width="0.9" stroke-linejoin="round"/>
<polygon points="334.3,536.2 334.4,523.8 341.0,521.1 340.9,533.5" fill="#eef045" stroke="#4a500a" stroke-width="0.9" stroke-linejoin="round"/>
<polygon points="334.4,523.8 341.0,521.1 334.0,516.1 327.4,518.7" fill="#f8fb58" stroke="#4a500a" stroke-width="0.9" stroke-linejoin="round"/>
<polygon points="311.5,537.5 311.5,526.3 318.4,531.5 318.4,542.8" fill="#b9c722" stroke="#4a500a" stroke-width="0.9" stroke-linejoin="round"/>
<polygon points="318.4,542.8 318.4,531.5 325.2,528.8 325.1,540.0" fill="#eef045" stroke="#4a500a" stroke-width="0.9" stroke-linejoin="round"/>
<polygon points="318.4,531.5 325.2,528.8 318.2,523.6 311.5,526.3" fill="#f8fb58" stroke="#4a500a" stroke-width="0.9" stroke-linejoin="round"/>
<polygon points="295.3,544.1 295.2,533.5 302.1,538.8 302.1,549.5" fill="#b9c722" stroke="#4a500a" stroke-width="0.9" stroke-linejoin="round"/>
<polygon points="302.1,549.5 302.1,538.8 309.0,536.0 309.0,546.7" fill="#eef045" stroke="#4a500a" stroke-width="0.9" stroke-linejoin="round"/>
<polygon points="302.1,538.8 309.0,536.0 302.1,530.7 295.2,533.5" fill="#f8fb58" stroke="#4a500a" stroke-width="0.9" stroke-linejoin="round"/>
<polygon points="278.8,550.8 278.6,544.3 285.4,549.8 285.5,556.4" fill="#b9c722" stroke="#4a500a" stroke-width="0.9" stroke-linejoin="round"/>
<polygon points="285.5,556.4 285.4,549.8 292.5,546.9 292.6,553.5" fill="#eef045" stroke="#4a500a" stroke-width="0.9" stroke-linejoin="round"/>
<polygon points="285.4,549.8 292.5,546.9 285.7,541.5 278.6,544.3" fill="#f8fb58" stroke="#4a500a" stroke-width="0.9" stroke-linejoin="round"/>
<polygon points="261.8,557.7 261.8,553.8 268.5,559.4 268.5,563.4" fill="#b9c722" stroke="#4a500a" stroke-width="0.9" stroke-linejoin="round"/>
<polygon points="268.5,563.4 268.5,559.4 275.7,556.5 275.7,560.4" fill="#eef045" stroke="#4a500a" stroke-width="0.9" stroke-linejoin="round"/>
<polygon points="268.5,559.4 275.7,556.5 268.9,550.9 261.8,553.8" fill="#f8fb58" stroke="#4a500a" stroke-width="0.9" stroke-linejoin="round"/>
<polygon points="244.6,564.8 244.4,561.3 251.1,567.0 251.2,570.5" fill="#b9c722" stroke="#4a500a" stroke-width="0.9" stroke-linejoin="round"/>
<polygon points="251.2,570.5 251.1,567.0 258.4,564.0 258.5,567.5" fill="#eef045" stroke="#4a500a" stroke-width="0.9" stroke-linejoin="round"/>
<polygon points="251.1,567.0 258.4,564.0 251.8,558.3 244.4,561.3" fill="#f8fb58" stroke="#4a500a" stroke-width="0.9" stroke-linejoin="round"/>
<polygon points="226.9,571.9 226.9,571.3 233.4,577.2 233.4,577.8" fill="#b9c722" stroke="#4a500a" stroke-width="0.9" stroke-linejoin="round"/>
<polygon points="233.4,577.8 233.4,577.2 240.9,574.1 240.9,574.7" fill="#eef045" stroke="#4a500a" stroke-width="0.9" stroke-linejoin="round"/>
<polygon points="233.4,577.2 240.9,574.1 234.3,568.2 226.9,571.3" fill="#f8fb58" stroke="#4a500a" stroke-width="0.9" stroke-linejoin="round"/>
<polygon points="433.3,506.1 433.3,504.8 440.9,509.6 440.8,510.8" fill="#d8e4d2" stroke="#556055" stroke-width="0.9" stroke-linejoin="round"/>
<polygon points="440.8,510.8 440.9,509.6 446.7,507.1 446.6,508.3" fill="#fbfffa" stroke="#556055" stroke-width="0.9" stroke-linejoin="round"/>
<polygon points="440.9,509.6 446.7,507.1 439.2,502.4 433.3,504.8" fill="#e2ecdc" stroke="#556055" stroke-width="0.9" stroke-linejoin="round"/>
<polygon points="419.2,512.0 420.0,494.7 427.6,499.4 426.7,516.9" fill="#d8e4d2" stroke="#556055" stroke-width="0.9" stroke-linejoin="round"/>
<polygon points="426.7,516.9 427.6,499.4 433.6,496.9 432.6,514.3" fill="#fbfffa" stroke="#556055" stroke-width="0.9" stroke-linejoin="round"/>
<polygon points="427.6,499.4 433.6,496.9 426.0,492.2 420.0,494.7" fill="#e2ecdc" stroke="#556055" stroke-width="0.9" stroke-linejoin="round"/>
<polygon points="404.8,518.1 405.7,496.8 413.2,501.6 412.2,523.0" fill="#d8e4d2" stroke="#556055" stroke-width="0.9" stroke-linejoin="round"/>
<polygon points="412.2,523.0 413.2,501.6 419.4,499.1 418.3,520.4" fill="#fbfffa" stroke="#556055" stroke-width="0.9" stroke-linejoin="round"/>
<polygon points="413.2,501.6 419.4,499.1 411.8,494.3 405.7,496.8" fill="#e2ecdc" stroke="#556055" stroke-width="0.9" stroke-linejoin="round"/>
<polygon points="390.1,524.2 390.8,505.9 398.2,510.8 397.5,529.3" fill="#d8e4d2" stroke="#556055" stroke-width="0.9" stroke-linejoin="round"/>
<polygon points="397.5,529.3 398.2,510.8 404.5,508.2 403.7,526.6" fill="#fbfffa" stroke="#556055" stroke-width="0.9" stroke-linejoin="round"/>
<polygon points="398.2,510.8 404.5,508.2 397.0,503.3 390.8,505.9" fill="#e2ecdc" stroke="#556055" stroke-width="0.9" stroke-linejoin="round"/>
<polygon points="375.1,530.5 375.4,518.6 382.8,523.7 382.4,535.7" fill="#d8e4d2" stroke="#556055" stroke-width="0.9" stroke-linejoin="round"/>
<polygon points="382.4,535.7 382.8,523.7 389.2,521.0 388.8,533.0" fill="#fbfffa" stroke="#556055" stroke-width="0.9" stroke-linejoin="round"/>
<polygon points="382.8,523.7 389.2,521.0 381.8,516.0 375.4,518.6" fill="#e2ecdc" stroke="#556055" stroke-width="0.9" stroke-linejoin="round"/>
<polygon points="359.8,537.0 360.0,524.8 367.4,530.0 367.1,542.2" fill="#d8e4d2" stroke="#556055" stroke-width="0.9" stroke-linejoin="round"/>
<polygon points="367.1,542.2 367.4,530.0 373.9,527.3 373.6,539.5" fill="#fbfffa" stroke="#556055" stroke-width="0.9" stroke-linejoin="round"/>
<polygon points="367.4,530.0 373.9,527.3 366.5,522.1 360.0,524.8" fill="#e2ecdc" stroke="#556055" stroke-width="0.9" stroke-linejoin="round"/>
<polygon points="344.1,543.5 344.3,529.3 351.6,534.6 351.4,548.9" fill="#d8e4d2" stroke="#556055" stroke-width="0.9" stroke-linejoin="round"/>
<polygon points="351.4,548.9 351.6,534.6 358.3,531.8 358.0,546.1" fill="#fbfffa" stroke="#556055" stroke-width="0.9" stroke-linejoin="round"/>
<polygon points="351.6,534.6 358.3,531.8 351.0,526.6 344.3,529.3" fill="#e2ecdc" stroke="#556055" stroke-width="0.9" stroke-linejoin="round"/>
<polygon points="328.1,550.2 328.2,542.7 335.4,548.2 335.3,555.7" fill="#d8e4d2" stroke="#556055" stroke-width="0.9" stroke-linejoin="round"/>
<polygon points="335.3,555.7 335.4,548.2 342.2,545.3 342.1,552.9" fill="#fbfffa" stroke="#556055" stroke-width="0.9" stroke-linejoin="round"/>
<polygon points="335.4,548.2 342.2,545.3 335.0,539.9 328.2,542.7" fill="#e2ecdc" stroke="#556055" stroke-width="0.9" stroke-linejoin="round"/>
<polygon points="311.8,557.1 311.8,549.4 318.9,555.0 318.9,562.7" fill="#d8e4d2" stroke="#556055" stroke-width="0.9" stroke-linejoin="round"/>
<polygon points="318.9,562.7 318.9,555.0 325.9,552.1 325.8,559.8" fill="#fbfffa" stroke="#556055" stroke-width="0.9" stroke-linejoin="round"/>
<polygon points="318.9,555.0 325.9,552.1 318.7,546.5 311.8,549.4" fill="#e2ecdc" stroke="#556055" stroke-width="0.9" stroke-linejoin="round"/>
<polygon points="295.1,564.1 295.0,559.8 302.1,565.5 302.1,569.9" fill="#d8e4d2" stroke="#556055" stroke-width="0.9" stroke-linejoin="round"/>
<polygon points="302.1,569.9 302.1,565.5 309.2,562.5 309.2,566.9" fill="#fbfffa" stroke="#556055" stroke-width="0.9" stroke-linejoin="round"/>
<polygon points="302.1,565.5 309.2,562.5 302.1,556.8 295.0,559.8" fill="#e2ecdc" stroke="#556055" stroke-width="0.9" stroke-linejoin="round"/>
<polygon points="278.0,571.3 277.9,568.8 284.9,574.6 285.0,577.2" fill="#d8e4d2" stroke="#556055" stroke-width="0.9" stroke-linejoin="round"/>
<polygon points="285.0,577.2 284.9,574.6 292.2,571.6 292.2,574.1" fill="#fbfffa" stroke="#556055" stroke-width="0.9" stroke-linejoin="round"/>
<polygon points="284.9,574.6 292.2,571.6 285.2,565.7 277.9,568.8" fill="#e2ecdc" stroke="#556055" stroke-width="0.9" stroke-linejoin="round"/>
<polygon points="260.5,578.6 260.5,576.6 267.4,582.6 267.4,584.7" fill="#d8e4d2" stroke="#556055" stroke-width="0.9" stroke-linejoin="round"/>
<polygon points="267.4,584.7 267.4,582.6 274.8,579.4 274.8,581.5" fill="#fbfffa" stroke="#556055" stroke-width="0.9" stroke-linejoin="round"/>
<polygon points="267.4,582.6 274.8,579.4 267.9,573.5 260.5,576.6" fill="#e2ecdc" stroke="#556055" stroke-width="0.9" stroke-linejoin="round"/>
<polygon points="242.6,586.2 242.6,585.1 249.4,591.3 249.5,592.3" fill="#d8e4d2" stroke="#556055" stroke-width="0.9" stroke-linejoin="round"/>
<polygon points="249.5,592.3 249.4,591.3 257.0,588.0 257.1,589.1" fill="#fbfffa" stroke="#556055" stroke-width="0.9" stroke-linejoin="round"/>
<polygon points="249.4,591.3 257.0,588.0 250.2,582.0 242.6,585.1" fill="#e2ecdc" stroke="#556055" stroke-width="0.9" stroke-linejoin="round"/>
</g>
<g id="axis">
<text transform="translate(461.5,514.4) scale(0.86,1)" class="sb" font-size="11">0</text>
<text transform="translate(463.7,482.0) scale(0.86,1)" class="sb" font-size="11">20</text>
<text transform="translate(465.9,449.1) scale(0.86,1)" class="sb" font-size="11">40</text>
<text transform="translate(468.2,415.2) scale(0.86,1)" class="sb" font-size="11">60</text>
<text transform="translate(470.6,380.2) scale(0.86,1)" class="sb" font-size="11">80</text>
<text transform="translate(473.0,344.1) scale(0.86,1)" class="sb" font-size="11">100</text>
<text transform="translate(499.0,412.3) rotate(-90) scale(0.96,1)" text-anchor="middle" class="sb" style="stroke-width:0.45px" font-size="12.8" letter-spacing="0.26" word-spacing="1.6">Fold induction Luc / β-gal</text>
<text transform="translate(257.8,601.6) rotate(44) scale(0.79,1)" class="sb" style="stroke-width:0.55px" font-size="10.6">pGL.CRI+1</text>
<text transform="translate(275.5,593.9) rotate(44) scale(0.79,1)" class="sb" style="stroke-width:0.55px" font-size="10.6">pGL.CRI-73</text>
<text transform="translate(292.8,586.3) rotate(44) scale(0.79,1)" class="sb" style="stroke-width:0.55px" font-size="10.6">pGL.CRI-138</text>
<text transform="translate(309.7,579.0) rotate(44) scale(0.79,1)" class="sb" style="stroke-width:0.55px" font-size="10.6">pGL.CRI-296</text>
<text transform="translate(326.2,571.8) rotate(44) scale(0.79,1)" class="sb" style="stroke-width:0.55px" font-size="10.6">pGL.CRI-366</text>
<text transform="translate(342.4,564.7) rotate(44) scale(0.79,1)" class="sb" style="stroke-width:0.55px" font-size="10.6">pGL.CRI-567</text>
<text transform="translate(358.2,557.8) rotate(44) scale(0.79,1)" class="sb" style="stroke-width:0.55px" font-size="10.6">pGL.CRI-766</text>
<text transform="translate(373.9,551.1) rotate(44) scale(0.79,1)" class="sb" style="stroke-width:0.55px" font-size="10.6">pGL.CRI-1083</text>
<text transform="translate(389.2,544.3) rotate(44) scale(0.79,1)" class="sb" style="stroke-width:0.55px" font-size="10.6">pGL.CRI-1587</text>
<text transform="translate(404.2,537.5) rotate(44) scale(0.79,1)" class="sb" style="stroke-width:0.55px" font-size="10.6">pGL.CRI-1674</text>
<text transform="translate(419.4,531.0) rotate(44) scale(0.79,1)" class="sb" style="stroke-width:0.55px" font-size="10.6">pGL.CRI-1849</text>
<text transform="translate(433.8,524.5) rotate(44) scale(0.79,1)" class="sb" style="stroke-width:0.55px" font-size="10.6">pGL.CRI-2586</text>
<text transform="translate(447.9,518.2) rotate(44) scale(0.79,1)" class="sb" style="stroke-width:0.55px" font-size="10.6">pGL.</text>
</g>
</svg>
</body></html>
